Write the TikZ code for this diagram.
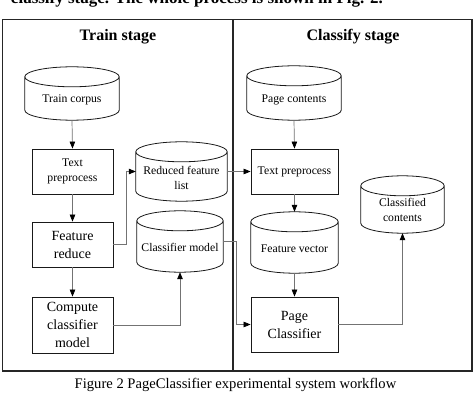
\documentclass[tikz,border=0pt]{standalone}
\usepackage{fontspec}
\setmainfont{Liberation Serif}
\usetikzlibrary{arrows.meta,calc}
\newcommand\drawcyl[1]{%
  \draw[cylline] let \p1=(#1.north west), \p2=(#1.south east) in
    (\x1,\y1-10pt) -- (\x1,\y2+10pt)
    arc[start angle=180,end angle=360,x radius={(\x2-\x1)/2},y radius=10pt]
    -- (\x2,\y1-10pt)
    ({(\x1+\x2)/2},\y1-10pt) ellipse[x radius={(\x2-\x1)/2},y radius=10pt];}
\begin{document}
\begin{tikzpicture}[x=1pt,y=1pt,
  frame/.style={draw=black!85,line width=1.2pt},
  procbox/.style={draw=black!90,line width=0.8pt,inner sep=0pt,align=center},
  cylbody/.style={draw=none,inner sep=0pt},
  cylline/.style={draw=black!90,line width=0.8pt},
  conn/.style={draw=black!55,line width=0.7pt,-{Triangle[length=7pt,width=5.5pt,color=black,fill=black]}},
  lab/.style={font=\fontsize{11.7}{15}\selectfont,align=center,inner sep=0pt},
  bigtxt/.style={font=\fontsize{14}{18}\selectfont},
  ttl/.style={font=\fontsize{16}{19}\selectfont\bfseries,anchor=base,inner sep=0pt}]
\useasboundingbox (0,0) rectangle (474,405);
\clip (0,0) rectangle (474,405);
\fill[white] (0,0) rectangle (474,405);

% cropped text line above the figure
\node[anchor=base east,inner sep=0pt,font=\fontsize{17}{20}\selectfont\bfseries] (toptext) at (383,401) {classify stage. The whole process is shown in Fig. 2.};

% frame
\draw[frame] (2.5,34) rectangle (472,385.5);
\draw[frame] (233,34) -- (233,385.5);
\node[ttl] (ttrain) at (118,364) {Train stage};
\node[ttl] (tclass) at (353,364) {Classify stage};

% left column
\node[cylbody,minimum width=94pt,minimum height=53pt] (tc) at (72,311.5) {};
\drawcyl{tc}
\node[lab] (tcl) at (72,305) {Train corpus};

\node[procbox,lab,minimum width=81pt,minimum height=45pt] (tp1) at (72.5,233.5) {Text\\preprocess};
\node[procbox,bigtxt,minimum width=81pt,minimum height=45pt] (fr) at (72.5,160.5) {Feature\\reduce};
\node[procbox,bigtxt,minimum width=81pt,minimum height=56pt] (cc) at (72.5,80) {Compute\\classifier\\model};

\node[cylbody,minimum width=91pt,minimum height=59pt] (rfl) at (181.5,233.5) {};
\drawcyl{rfl}
\node[lab] (rfll) at (181.5,227) {Reduced feature\\list};

\node[cylbody,minimum width=86pt,minimum height=61pt] (cm) at (180,163.5) {};
\drawcyl{cm}
\node[lab] (cml) at (180,158) {Classifier model};

% right column
\node[cylbody,minimum width=94pt,minimum height=54pt] (pc) at (294,312) {};
\drawcyl{pc}
\node[lab] (pcl0) at (294,305) {Page contents};

\node[procbox,lab,minimum width=87pt,minimum height=45pt] (tp2) at (294.5,233.5) {Text preprocess};

\node[cylbody,minimum width=87pt,minimum height=61pt] (fv) at (294.5,162.5) {};
\drawcyl{fv}
\node[lab] (fvl) at (294.5,156) {Feature vector};

\node[procbox,bigtxt,minimum width=87pt,minimum height=55pt] (pcl) at (294.5,80.5) {Page\\Classifier};

\node[cylbody,minimum width=83pt,minimum height=57pt] (ccon) at (402.5,200.5) {};
\drawcyl{ccon}
\node[lab] (ccl) at (402.5,195) {Classified\\contents};

% connectors
\draw[conn] (tc.south) -- (tp1.north);
\draw[conn] (tp1.south) -- (fr.north);
\draw[conn] (fr.south) -- (cc.north);
\draw[conn] (fr.east) -- ++(13,0) |- (rfl.west);
\draw[conn] (cc.east) -| (cm.south);
\draw[conn] (rfl.east) -- (tp2.west);
\draw[conn] (cm.east) -| ([xshift=-14pt]pcl.west) -- (pcl.west);
\draw[conn] (pc.south) -- (tp2.north);
\draw[conn] (tp2.south) -- (fv.north);
\draw[conn] (fv.south) -- (pcl.north);
\draw[conn] (pcl.east) -| (ccon.south);

% caption
\node[anchor=base,inner sep=0pt,font=\fontsize{14.6}{17}\selectfont] (cap) at (235.5,17) {Figure 2 PageClassifier experimental system workflow};
\end{tikzpicture}
\end{document}
